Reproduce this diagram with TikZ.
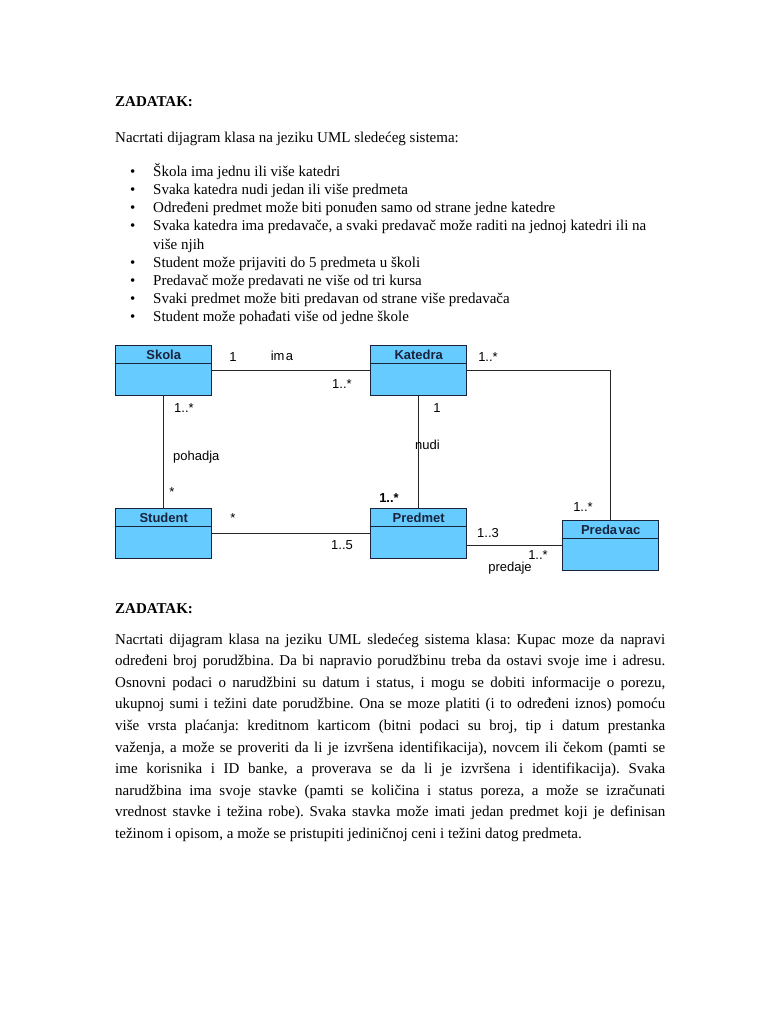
\documentclass[tikz,border=0pt]{standalone}
\usepackage{fontspec}
\setmainfont{Liberation Serif}
\newfontfamily\arialf{Liberation Sans}
\definecolor{classblue}{RGB}{102,204,255}
\definecolor{classedge}{RGB}{25,35,60}
\newcommand\umlclass[4]{%
  \node[classbox] (#1) at (#2,#3) {};
  \draw[classedge, line width=1.1pt] ([yshift=-18.5pt]#1.north west) -- ([yshift=-18.5pt]#1.north east);
  \node[cname] (#1-name) at ([yshift=-9.5pt]#1.north) {#4};
}
\frenchspacing
\begin{document}
\begin{tikzpicture}[x=1pt,y=-1pt,
  txt/.style={anchor=base west, inner sep=0, font=\fontsize{15}{18}\selectfont},
  head/.style={anchor=base west, inner sep=0, font=\fontsize{15}{18}\selectfont\bfseries},
  bul/.style={anchor=base west, inner sep=0, font=\fontsize{15}{18}\selectfont},
  classbox/.style={draw=classedge, line width=1.4pt, fill=classblue, minimum width=96pt, minimum height=50pt, inner sep=0, anchor=north west},
  cname/.style={font=\arialf\bfseries\fontsize{13}{14}\selectfont, inner sep=0, text=classedge},
  lbl/.style={font=\arialf\fontsize{13}{14}\selectfont, inner sep=0},
  assoc/.style={draw=black!85, line width=0.9pt}]
\fill[white] (0,0) rectangle (768,1024);
\useasboundingbox (0,0) rectangle (768,1024);

% ---- first task ----
\node[head] (h1) at (115,107) {ZADATAK:};
\node[txt] (intro1) at (115,143) {Nacrtati dijagram klasa na jeziku UML sledećeg sistema:};

\foreach \yy/\nm in {177/b1,195/b2,213/b3,231/b4,267/b5,285/b6,303/b7,321/b8}{
  \node[bul] (\nm) at (130,\yy) {\textbullet};
}
\node[txt] (l1) at (153,177) {Škola ima jednu ili više katedri};
\node[txt] (l2) at (153,195) {Svaka katedra nudi jedan ili više predmeta};
\node[txt] (l3) at (153,213) {Određeni predmet može biti ponuđen samo od strane jedne katedre};
\node[txt] (l4) at (153,231) {Svaka katedra ima predavače, a svaki predavač može raditi na jednoj katedri ili na};
\node[txt] (l4b) at (153,249) {više njih};
\node[txt] (l5) at (153,267) {Student može prijaviti do 5 predmeta u školi};
\node[txt] (l6) at (153,285) {Predavač može predavati ne više od tri kursa};
\node[txt] (l7) at (153,303) {Svaki predmet može biti predavan od strane više predavača};
\node[txt] (l8) at (153,321) {Student može pohađati više od jedne škole};

% ---- diagram ----
\umlclass{skola}{115}{345}{Skola}
\umlclass{katedra}{370}{345}{Katedra}
\umlclass{student}{115}{508}{Student}
\umlclass{predmet}{370}{508}{Predmet}
\umlclass{predavac}{562}{520}{Preda\kern1.5pt vac}

\draw[assoc] (skola.east) -- (katedra.west);
\draw[assoc] (skola.south) -- (student.north);
\draw[assoc] (katedra.south) -- (predmet.north);
\draw[assoc] (student.east) -- (predmet.west);
\draw[assoc] (katedra.east) -| (predavac.north);
\draw[assoc] (predmet.east |- predavac.west) -- (predavac.west);

\node[lbl] (m1) at (233,357) {1};
\node[lbl] (ima) at (282,356) {im\kern1.5pt a};
\node[lbl] (m2) at (342,384) {1..*};
\node[lbl] (m3) at (184,408) {1..*};
\node[lbl, anchor=west] (poh) at (173,457) {pohadja};
\node[lbl] (m4) at (172,492) {*};
\node[lbl] (m5) at (233,518) {*};
\node[lbl] (m6) at (342,545) {1..5};
\node[lbl] (m7) at (488,357) {1..*};
\node[lbl] (m8) at (437,408) {1};
\node[lbl, anchor=west] (nudi) at (415,445) {nudi};
\node[lbl, font=\arialf\bfseries\fontsize{13}{14}\selectfont] (m9) at (389,498) {1..*};
\node[lbl] (m10) at (583,507) {1..*};
\node[lbl] (m11) at (488,533) {1..3};
\node[lbl] (m12) at (538,555) {1..*};
\node[lbl] (pred) at (510,568) {predaje};

% ---- second task ----
\node[head] (h2) at (115,613) {ZADATAK:};
\node[txt] (p1) at (115,644) {\makebox[550pt][s]{Nacrtati dijagram klasa na jeziku UML sledećeg sistema klasa: Kupac moze da napravi}};
\node[txt] (p2) at (115,665.6) {\makebox[550pt][s]{određeni broj porudžbina. Da bi napravio porudžbinu treba da ostavi svoje ime i adresu.}};
\node[txt] (p3) at (115,687.2) {\makebox[550pt][s]{Osnovni podaci o narudžbini su datum i status, i mogu se dobiti informacije o porezu,}};
\node[txt] (p4) at (115,708.8) {\makebox[550pt][s]{ukupnoj sumi i težini date porudžbine. Ona se moze platiti (i to određeni iznos) pomoću}};
\node[txt] (p5) at (115,730.4) {\makebox[550pt][s]{više vrsta plaćanja: kreditnom karticom (bitni podaci su broj, tip i datum prestanka}};
\node[txt] (p6) at (115,752) {\makebox[550pt][s]{važenja, a može se proveriti da li je izvršena identifikacija), novcem ili čekom (pamti se}};
\node[txt] (p7) at (115,773.6) {\makebox[550pt][s]{ime korisnika i ID banke, a proverava se da li je izvršena i identifikacija). Svaka}};
\node[txt] (p8) at (115,795.2) {\makebox[550pt][s]{narudžbina ima svoje stavke (pamti se količina i status poreza, a može se izračunati}};
\node[txt] (p9) at (115,816.8) {\makebox[550pt][s]{vrednost stavke i težina robe). Svaka stavka može imati jedan predmet koji je definisan}};
\node[txt] (p10) at (115,838.4) {težinom i opisom, a može se pristupiti jediničnoj ceni i težini datog predmeta.};
\end{tikzpicture}
\end{document}
